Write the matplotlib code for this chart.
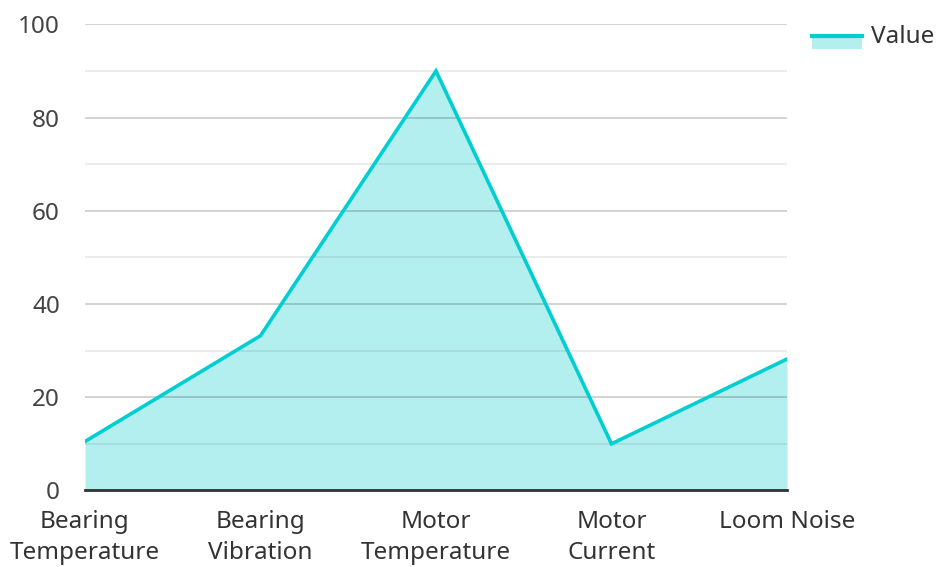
import matplotlib
matplotlib.use("Agg")
import matplotlib.pyplot as plt
from matplotlib.lines import Line2D
from matplotlib.patches import Rectangle

plt.rcParams['font.family'] = ['Noto Sans', 'DejaVu Sans']

categories = ["Bearing\nTemperature", "Bearing\nVibration", "Motor\nTemperature", "Motor\nCurrent", "Loom Noise"]
values = [10.5, 33.2, 90, 10, 28.2]
series_name = "Value"
yticks = [0, 20, 40, 60, 80, 100]

line_color = "#00CED1"
fill_color = "#B2EFEE"
text_color = "#333333"

fig = plt.figure(figsize=(9.36, 5.67), dpi=100)
ax = fig.add_axes([0.0908, 0.135, 0.75, 0.822])

x = list(range(len(categories)))
ax.fill_between(x, values, 0, color=fill_color, linewidth=0, zorder=2)
ax.plot(x, values, color=line_color, linewidth=2.6, zorder=3, solid_joinstyle='miter')

ax.set_xlim(0, len(categories) - 1)
ax.set_ylim(0, 100)
ax.set_yticks(yticks)
ax.set_yticks(range(10, 100, 20), minor=True)
ax.grid(axis='y', which='major', color='black', alpha=0.2, linewidth=1.2, zorder=2.5)
ax.grid(axis='y', which='minor', color='black', alpha=0.09, linewidth=1.2, zorder=2.5)
ax.set_axisbelow(False)
for s in ['top', 'right', 'left']:
    ax.spines[s].set_visible(False)
ax.spines['bottom'].set_color('#333333')
ax.spines['bottom'].set_linewidth(2)
ax.spines['bottom'].set_zorder(4)
ax.set_xticks(x)
ax.set_xticklabels(categories, fontsize=17.5, color=text_color, linespacing=1.42)
ax.tick_params(axis='y', which='both', length=0, pad=18, labelsize=17.5, labelcolor='#444444')
ax.tick_params(axis='x', length=0, pad=14)

# legend
fig.patches.append(Rectangle((812/936, 1-49/567), 50/936, 14/567, transform=fig.transFigure,
                             facecolor=fill_color, edgecolor='none'))
fig.lines.append(Line2D([812/936, 862/936], [1-36/567, 1-36/567], transform=fig.transFigure,
                        color=line_color, linewidth=3))
fig.text(871/936, 1-37/567, series_name, fontsize=17.5, color=text_color, va='center', ha='left')

fig.savefig("out.png", dpi=100)
